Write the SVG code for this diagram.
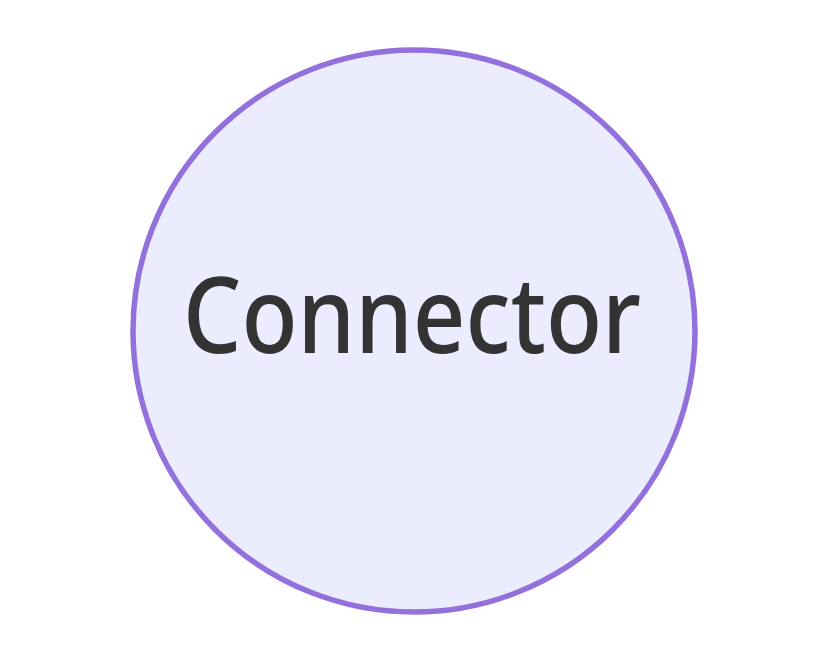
<svg xmlns="http://www.w3.org/2000/svg" width="828" height="664" viewBox="0 0 828 664">
<style>
.node circle{fill:#ECECFF;stroke:#9370DB;stroke-width:5.5}
.label{font-family:"Noto Sans","Open Sans","DejaVu Sans",sans-serif;font-size:106px;font-weight:500;fill:#333333;text-anchor:middle}
</style>
<rect width="828" height="664" fill="#ffffff"/>
<g id="connectors"></g>
<g id="node-connector" class="node">
<circle cx="414" cy="331" r="281"/>
<text class="label" x="412" y="353" textLength="458" lengthAdjust="spacingAndGlyphs">Connector</text>
</g>
</svg>
